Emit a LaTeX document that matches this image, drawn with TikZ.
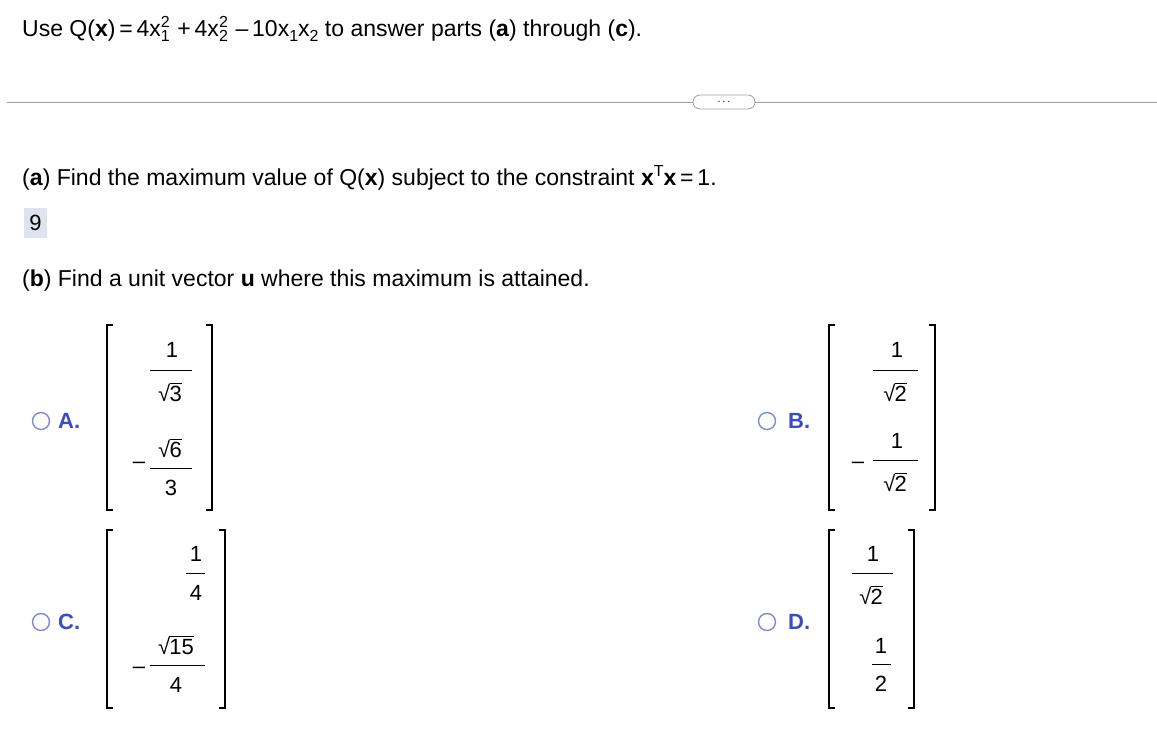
\documentclass[tikz,border=0pt]{standalone}
\usepackage{fontspec}
\setmainfont{Liberation Sans}
\definecolor{lbl}{HTML}{3B4CC0}
\definecolor{circ}{HTML}{7C8AD8}
\definecolor{ansbg}{HTML}{DDE3EF}
\definecolor{rule}{HTML}{9AA0A8}
\newcommand\rt[1]{√\kern-0.8pt\vbox{\hrule height1.1pt\kern1.4pt\hbox{#1}}}
\newcommand\sbsp[2]{\rlap{\raisebox{-5pt}{\fontsize{16}{16}\selectfont #1}}\raisebox{9pt}{\fontsize{16}{16}\selectfont #2}}
\newcommand\sub[1]{\raisebox{-5pt}{\fontsize{16}{16}\selectfont #1}}
\newcommand\sups[1]{\raisebox{9pt}{\fontsize{16}{16}\selectfont #1}}
\begin{document}
\begin{tikzpicture}[x=1pt,y=-1pt,
  txt/.style={anchor=base west,inner sep=0pt,font=\fontsize{23}{26}\selectfont},
  ent/.style={anchor=base,inner sep=0pt,font=\fontsize{22}{26}\selectfont},
  lab/.style={anchor=base west,inner sep=0pt,font=\fontsize{22}{26}\selectfont\bfseries,text=lbl},
  radio/.style={circle,draw=circ,line width=1.4pt,minimum size=17pt,inner sep=0pt},
  brk/.style={line width=1.2pt},
  bar/.style={line width=0.8pt}]
\useasboundingbox (0,0) rectangle (1157,751);
% title
\node[txt] (title) at (22,37) {Use Q(\textbf{x})\,=\,4x\sbsp{1}{2}\,\,+\,4x\sbsp{2}{2}\,\,–\,10x\sub{1}x\sub{2} to answer parts (\textbf{a}) through (\textbf{c}).};
% rule and button
\coordinate (rl) at (7,102); \coordinate (rr) at (1157,102);
\draw[rule,line width=0.8pt] (rl) -- (rr);
\node[draw=rule,fill=white,rounded corners=7pt,minimum width=62pt,minimum height=14pt,inner sep=0pt,line width=0.8pt,font=\fontsize{14}{14}\selectfont\bfseries,text=black!70] (more) at (724,102) {$\cdot\!\cdot\!\cdot$};
% (a)
\node[txt] (qa) at (22,186) {(\textbf{a}) Find the maximum value of Q(\textbf{x}) subject to the constraint \textbf{x}\sups{T}\textbf{x}\,=\,1.};
\node[fill=ansbg,minimum width=23pt,minimum height=30pt,inner sep=0pt,font=\fontsize{22}{22}\selectfont] (ans) at (35.5,223) {9};
% (b)
\node[txt] (qb) at (22,287) {(\textbf{b}) Find a unit vector \textbf{u} where this maximum is attained.};
% A
\node[radio] (rA) at (41,421) {};
\node[lab] (lA) at (58,428) {A.};
\draw[brk] (113,325) -- (107,325) -- (107,510) -- (113,510);
\draw[brk] (206,325) -- (212,325) -- (212,510) -- (206,510);
\node[ent] (a1) at (172,358) {1};
\draw[bar] (150,370) -- (192,370);
\node[ent] (a2) at (170,401) {\rt{3}};
\node[ent] (a3) at (139,468) {–};
\node[ent] (a4) at (170,457) {\rt{6}};
\draw[bar] (150,468) -- (192,468);
\node[ent] (a5) at (171,495) {3};
% B
\node[radio] (rB) at (767,421) {};
\node[lab] (lB) at (788,428) {B.};
\draw[brk] (835,325) -- (829,325) -- (829,510) -- (835,510);
\draw[brk] (929,325) -- (935,325) -- (935,510) -- (929,510);
\node[ent] (b1) at (897,358) {1};
\draw[bar] (873,370) -- (918,370);
\node[ent] (b2) at (895,401) {\rt{2}};
\node[ent] (b3) at (858,468) {–};
\node[ent] (b4) at (897,448) {1};
\draw[bar] (873,460) -- (918,460);
\node[ent] (b5) at (895,491) {\rt{2}};
% C
\node[radio] (rC) at (41,622) {};
\node[lab] (lC) at (58,629) {C.};
\draw[brk] (113,530) -- (107,530) -- (107,708) -- (113,708);
\draw[brk] (219,530) -- (225,530) -- (225,708) -- (219,708);
\node[ent] (c1) at (196,561) {1};
\draw[bar] (186,573) -- (205,573);
\node[ent] (c2) at (196,600) {4};
\node[ent] (c3) at (139,673) {–};
\node[ent] (c4) at (176,654) {\rt{15}};
\draw[bar] (150,665) -- (205,665);
\node[ent] (c5) at (176,692) {4};
% D
\node[radio] (rD) at (767,622) {};
\node[lab] (lD) at (788,629) {D.};
\draw[brk] (835,530) -- (829,530) -- (829,708) -- (835,708);
\draw[brk] (908,530) -- (914,530) -- (914,708) -- (908,708);
\node[ent] (d1) at (873,561) {1};
\draw[bar] (852,573) -- (893,573);
\node[ent] (d2) at (871,604) {\rt{2}};
\node[ent] (d3) at (881,653) {1};
\draw[bar] (872,664) -- (891,664);
\node[ent] (d4) at (881,691) {2};
\end{tikzpicture}
\end{document}
